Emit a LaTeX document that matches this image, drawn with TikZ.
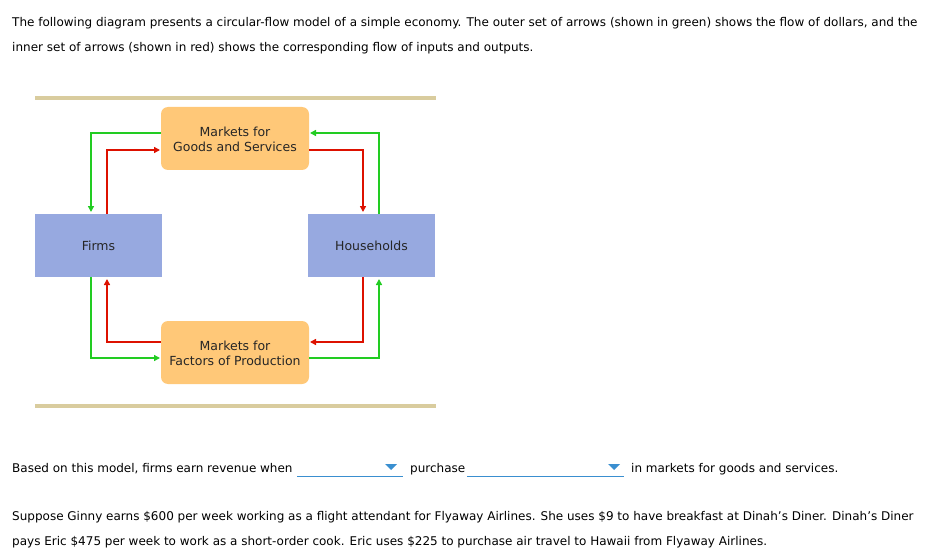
\documentclass[tikz,border=0pt]{standalone}
\usepackage{fontspec}
\setmainfont{DejaVu Sans}
\usetikzlibrary{arrows.meta}
\definecolor{tan}{HTML}{D9CC9E}
\definecolor{mkt}{HTML}{FFC878}
\definecolor{agent}{HTML}{97A9E0}
\definecolor{gr}{HTML}{22CC22}
\definecolor{rd}{HTML}{DD1100}
\definecolor{dd}{HTML}{3A8FD0}
\begin{document}
\begin{tikzpicture}[x=1pt,y=-1pt,
  txt/.style={font=\fontsize{12}{14}\selectfont,anchor=base west,inner sep=0},
  lbl/.style={font=\fontsize{12.5}{15}\selectfont,align=center,text=black!85},
  market/.style={fill=mkt,rounded corners=7pt,draw=none},
  ag/.style={fill=agent,draw=none},
  flow/.style={line width=2pt,-{Triangle[length=6pt,width=6pt]}},
  bar/.style={tan,line width=4pt}]
\useasboundingbox (0,0) rectangle (948,559);
\node[txt] (t1) at (12,27) {The following diagram presents a circular-flow model of a simple economy. The outer set of arrows (shown in green) shows the flow of dollars, and the};
\node[txt] (t2) at (12,52) {inner set of arrows (shown in red) shows the corresponding flow of inputs and outputs.};
\draw[bar] (35,98) -- (436,98);
\draw[bar] (35,406) -- (436,406);
\path[market] (161,107) rectangle (309,170);
\node[lbl] (goods) at (235,139) {Markets for\\Goods and Services};
\path[market] (161,321) rectangle (309,384);
\node[lbl] (factors) at (235,353) {Markets for\\Factors of Production};
\path[ag] (35,214) rectangle (162,277);
\node[lbl] (firms) at (98.5,246) {Firms};
\path[ag] (308,214) rectangle (435,277);
\node[lbl] (hh) at (371.5,246) {Households};
\coordinate (gL) at (161,0); \coordinate (gR) at (309,0);
\coordinate (fT) at (0,213); \coordinate (fB) at (0,278);
% top left
\draw[flow,gr] (161,133) -- (91,133) -- (91,212);
\draw[flow,rd] (107,214) -- (107,150) -- (160,150);
% top right
\draw[flow,rd] (309,150) -- (363,150) -- (363,212);
\draw[flow,gr] (379,214) -- (379,133) -- (310,133);
% bottom right
\draw[flow,rd] (363,277) -- (363,342) -- (310,342);
\draw[flow,gr] (309,358) -- (379,358) -- (379,279);
% bottom left
\draw[flow,rd] (161,342) -- (107,342) -- (107,279);
\draw[flow,gr] (91,277) -- (91,358) -- (160,358);
\node[txt] (q1) at (12,472) {Based on this model, firms earn revenue when};
\draw[dd,line width=1pt] (297,476) -- (403,476);
\fill[dd] (385,464) -- (397,464) -- (391,470) -- cycle;
\node[txt] (q2) at (410,472) {purchase};
\draw[dd,line width=1pt] (467,476) -- (624,476);
\fill[dd] (608,464) -- (620,464) -- (614,470) -- cycle;
\node[txt] (q3) at (631,472) {in markets for goods and services.};
\node[txt] (p1) at (12,520) {Suppose Ginny earns \$600 per week working as a flight attendant for Flyaway Airlines. She uses \$9 to have breakfast at Dinah's Diner. Dinah's Diner};
\node[txt] (p2) at (12,545) {pays Eric \$475 per week to work as a short-order cook. Eric uses \$225 to purchase air travel to Hawaii from Flyaway Airlines.};
\end{tikzpicture}
\end{document}
